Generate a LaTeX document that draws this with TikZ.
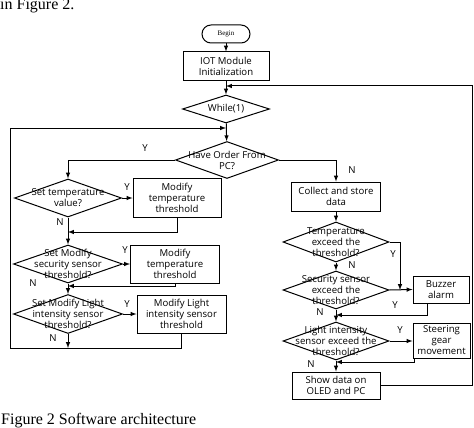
\documentclass[tikz,border=0pt]{standalone}
\usepackage{fontspec}
\setmainfont{Liberation Serif}
\setsansfont{Open Sans}
\usetikzlibrary{shapes.geometric}
\tikzset{
  txt/.style={font=\sffamily\fontsize{9.6}{11}\selectfont, align=center, inner sep=0pt},
  box/.style={draw, line width=1pt, txt},
  dec/.style={diamond, draw, line width=1pt, inner sep=0pt, minimum width=107, minimum height=38},
  term/.style={draw, line width=1pt, rounded corners=9, minimum width=48, minimum height=18, inner sep=0pt, font=\fontsize{7}{8}\selectfont},
  yn/.style={font=\sffamily\fontsize{9.6}{10}\selectfont, inner sep=0pt},
  flow/.style={->, line width=1pt},
}
\begin{document}
\begin{tikzpicture}[x=1pt, y=-1pt, >=latex]
	\useasboundingbox (0,0) rectangle (474,428);
	% page text
	\node[anchor=base west, inner sep=0pt, font=\fontsize{16}{18}\selectfont] (intro) at (0,9.5) {in Figure 2.};
	\node[anchor=base west, inner sep=0pt, font=\fontsize{16}{18}\selectfont] (caption) at (1,424) {Figure 2 Software architecture};
	
	% 1. main column
	\node[term] (begin) at (226,34) {Begin};
	\node[box, minimum width=86, minimum height=29] (init) at (226,66.5) {IOT Module\\Initialization};
	\node[dec, minimum width=87, minimum height=28, label={[txt]center:While(1)}] (while) at (226,109) {};
	\node[dec, minimum width=103, minimum height=37, label={[txt]center:Have Order From\\PC?}] (order) at (227,160) {};
	
	% 2. left column (orders from PC)
	\node[dec, label={[txt]center:Set temperature\\value?}] (settemp) at (68,198) {};
	\node[box, minimum width=88, minimum height=39] (mtemp) at (177,197.5) {Modify\\temperature\\threshold};
	\node[dec, minimum width=109, label={[txt]center:Set Modify\\security sensor\\threshold?}] (setsec) at (68,264) {};
	\node[box, minimum width=89, minimum height=38] (msec) at (175,264) {Modify\\temperature\\threshold};
	\node[dec, minimum width=109, minimum height=39, label={[txt]center:Set Modify Light\\intensity sensor\\threshold?}] (setlight) at (68,314) {};
	\node[box, minimum width=89, minimum height=38] (mlight) at (181.5,314) {Modify Light\\intensity sensor\\threshold};
	
	% 3. right column (sensors)
	\node[box, minimum width=89, minimum height=29] (collect) at (336,196.5) {Collect and store\\data};
	\node[dec, minimum width=106, minimum height=40, label={[txt]center:Temperature\\exceed the\\threshold?}] (tempex) at (336,242) {};
	\node[dec, minimum width=106, label={[txt]center:Security sensor\\exceed the\\threshold?}] (secex) at (336,290) {};
	\node[box, minimum width=56, minimum height=27] (buzzer) at (441,289.5) {Buzzer\\alarm};
	\node[dec, minimum width=106, label={[txt]center:Light intensity\\sensor exceed the\\threshold?}] (lightex) at (336,341) {};
	\node[box, minimum width=57, minimum height=35] (steer) at (441.5,340.5) {Steering\\gear\\movement};
	\node[box, minimum width=88, minimum height=27] (show) at (336,385.5) {Show data on\\OLED and PC};
	
	% 4. junction points
	\coordinate (j1) at (68,232);
	\coordinate (j2) at (68,286);
	\coordinate (j3) at (68,348);
	\coordinate (lb) at (10,348);
	\coordinate (lt) at (10,128);
	\coordinate (lin) at (226,128);
	\coordinate (tj) at (400,290);
	\coordinate (bj) at (336,315);
	\coordinate (sj) at (336,362);
	\coordinate (rb) at (472,385.5);
	\coordinate (rt) at (472,86);
	\coordinate (rin) at (226,86);
	
	% 5. connectors
	\draw[flow] (begin) -- (init);
	\draw[flow] (init) -- (while);
	\draw[flow] (while) -- (order);
	\draw[flow] (order.west) -| (settemp.north);
	\draw[flow] (order.east) -| (collect.north);
	
	\draw[flow] (settemp.east) -- (settemp.east -| mtemp.west);
	\draw[flow] (settemp) -- (setsec);
	\draw[flow] (mtemp.south) |- (j1);
	\draw[flow] (setsec.east) -- (setsec.east -| msec.west);
	\draw[flow] (setsec) -- (setlight);
	\draw[flow] (msec.south) |- (j2);
	\draw[flow] (setlight.east) -- (setlight.east -| mlight.west);
	\draw[flow] (setlight.south) -- (j3);
	\draw[flow] (mlight.south) |- (lb) -- (lt) -- (lin);
	
	\draw[flow] (collect) -- (tempex);
	\draw[flow] (tempex.east) -| (tj);
	\draw[flow] (tempex) -- (secex);
	\draw[flow] (secex.east) -- (buzzer.west);
	\draw[flow] ([xshift=-14]buzzer.south) |- (bj);
	\draw[flow] (secex) -- (lightex);
	\draw[flow] (lightex.east) -- (lightex.east -| steer.west);
	\draw[flow] ([xshift=2]steer.south west) |- (sj);
	\draw[flow] (lightex) -- (show);
	\draw[flow] (show.east) -- (rb) -- (rt) -- (rin);
	
	% 6. Y / N marks
	\node[yn] (y1) at (145,148) {Y};
	\node[yn] (n1) at (352,170) {N};
	\node[yn] (y2) at (127,187) {Y};
	\node[yn] (n2) at (60,222) {N};
	\node[yn] (y3) at (125,250) {Y};
	\node[yn] (n3) at (33,283) {N};
	\node[yn] (y4) at (127,304) {Y};
	\node[yn] (n4) at (53,338) {N};
	\node[yn] (y5) at (393,254) {Y};
	\node[yn] (n5) at (352,265) {N};
	\node[yn] (y6) at (395,305) {Y};
	\node[yn] (n6) at (320,312) {N};
	\node[yn] (y7) at (400,330) {Y};
	\node[yn] (n7) at (311,364) {N};
\end{tikzpicture}
\end{document}
